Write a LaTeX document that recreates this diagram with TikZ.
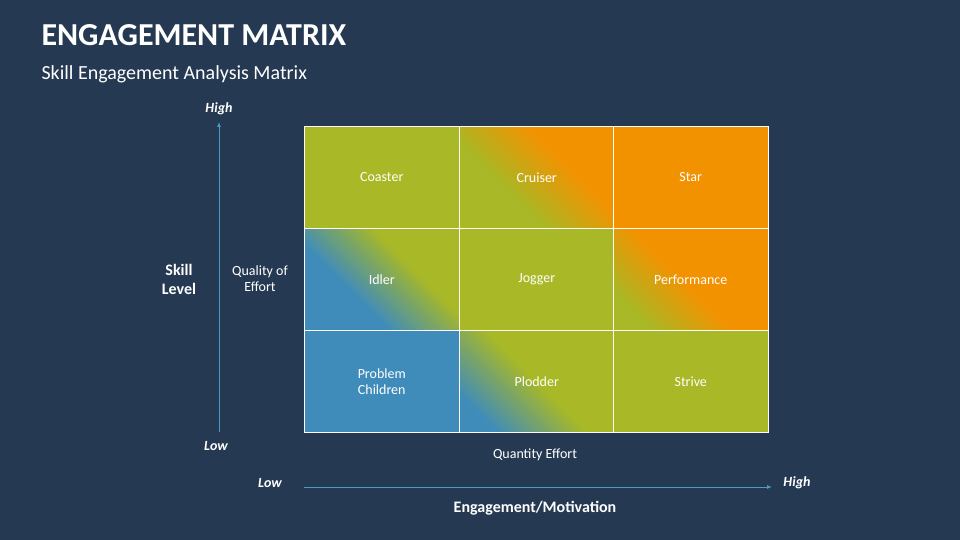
\documentclass[tikz,border=0pt]{standalone}
\usepackage{fontspec}
\usetikzlibrary{arrows.meta}
\setmainfont{Carlito}
\definecolor{bg}{HTML}{253A52}
\definecolor{gr}{HTML}{A8B826}
\definecolor{og}{HTML}{F39200}
\definecolor{bl}{HTML}{3F8CBA}
\definecolor{ax}{HTML}{4A9CC8}
\pgfdeclarehorizontalshading{gro}{100bp}{color(0bp)=(gr); color(38bp)=(gr); color(62bp)=(og); color(100bp)=(og)}
\pgfdeclarehorizontalshading{blg}{100bp}{color(0bp)=(bl); color(38bp)=(bl); color(62bp)=(gr); color(100bp)=(gr)}
\pgfdeclarehorizontalshading{gro2}{100bp}{color(0bp)=(gr); color(25bp)=(gr); color(48bp)=(og); color(100bp)=(og)}
\pgfdeclarehorizontalshading{blg2}{100bp}{color(0bp)=(bl); color(25bp)=(bl); color(50bp)=(gr); color(100bp)=(gr)}
\begin{document}
\begin{tikzpicture}[x=1pt,y=-1pt,
  cell/.style={draw=white,line width=0.8pt,minimum width=154.7pt,minimum height=102pt,anchor=north west,inner sep=0pt,text=white,font=\fontsize{14}{16}\selectfont,align=center},
  lab/.style={text=white,font=\fontsize{14}{16}\selectfont,align=center},
  hl/.style={text=white,font=\fontsize{14}{16}\selectfont\bfseries\itshape},
  arr/.style={draw=ax,line width=1pt,-{Latex[length=5pt,width=4pt]}}]
\useasboundingbox[fill=bg] (0,0) rectangle (960,540);
\node[anchor=west,text=white,font=\fontsize{32}{36}\selectfont\bfseries] (t) at (38,35) {ENGAGEMENT MATRIX};
\node[anchor=west,text=white,font=\fontsize{20}{24}\selectfont] (st) at (38,74) {Skill Engagement Analysis Matrix};
% row 1
\node[cell,fill=gr] (c11) at (304,126) {Coaster};
\node[cell,shading=gro,shading angle=45] (c12) at (459,126) {Cruiser};
\node[cell,fill=og] (c13) at (613,126) {Star};
% row 2
\node[cell,shading=blg,shading angle=45] (c21) at (304,228) {Idler};
\node[cell,fill=gr] (c22) at (459,228) {Jogger};
\node[cell,shading=gro2,shading angle=45] (c23) at (613,228) {Performance};
% row 3
\node[cell,fill=bl] (c31) at (304,330) {Problem\\Children};
\node[cell,shading=blg2,shading angle=45] (c32) at (459,330) {Plodder};
\node[cell,fill=gr] (c33) at (613,330) {Strive};
% labels
\node[lab] (qe) at (260,279) {Quality of\\Effort};
\node[text=white,font=\fontsize{16}{19}\selectfont\bfseries,align=center] (sl) at (179,279) {Skill\\Level};
\node[lab] (qf) at (535,455) {Quantity Effort};
\node[text=white,font=\fontsize{16}{19}\selectfont\bfseries] (em) at (535,508) {Engagement/Motivation};
\node[hl] (vh) at (219,109) {High};
\node[hl] (vl) at (216,446) {Low};
\node[hl] (hlow) at (270,483) {Low};
\node[hl] (hh) at (797,483) {High};
\coordinate (v0) at (219,432);
\coordinate (v1) at (219,122);
\coordinate (h0) at (304,487);
\coordinate (h1) at (772,487);
\draw[arr] (v0) -- (v1);
\draw[arr] (h0) -- (h1);
\end{tikzpicture}
\end{document}
